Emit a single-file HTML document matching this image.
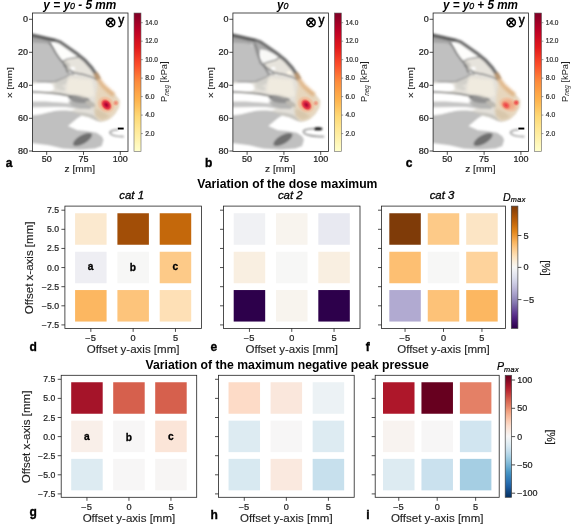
<!DOCTYPE html>
<html><head><meta charset="utf-8"><style>
html,body{margin:0;padding:0;background:#fff;width:575px;height:531px;overflow:hidden;}
svg{display:block;font-family:"Liberation Sans",sans-serif;will-change:transform;}
</style></head><body>
<svg width="575" height="531" viewBox="0 0 575 531" font-family="Liberation Sans, sans-serif"><defs>
<linearGradient id="gYl" x1="0" y1="0" x2="0" y2="1"><stop offset="0.000" stop-color="#800026"/><stop offset="0.042" stop-color="#930026"/><stop offset="0.083" stop-color="#a80026"/><stop offset="0.125" stop-color="#bb0026"/><stop offset="0.167" stop-color="#c90823"/><stop offset="0.208" stop-color="#d6111f"/><stop offset="0.250" stop-color="#e2191c"/><stop offset="0.292" stop-color="#eb2b21"/><stop offset="0.333" stop-color="#f43d25"/><stop offset="0.375" stop-color="#fc4d2a"/><stop offset="0.417" stop-color="#fc6330"/><stop offset="0.458" stop-color="#fd7836"/><stop offset="0.500" stop-color="#fd8c3c"/><stop offset="0.542" stop-color="#fd9941"/><stop offset="0.583" stop-color="#fea647"/><stop offset="0.625" stop-color="#feb24c"/><stop offset="0.667" stop-color="#febf5a"/><stop offset="0.708" stop-color="#fecc68"/><stop offset="0.750" stop-color="#fed976"/><stop offset="0.792" stop-color="#fee084"/><stop offset="0.833" stop-color="#ffe793"/><stop offset="0.875" stop-color="#ffeda0"/><stop offset="0.917" stop-color="#fff3af"/><stop offset="0.958" stop-color="#fff9be"/><stop offset="1.000" stop-color="#ffffcc"/></linearGradient>
<linearGradient id="gPu" x1="0" y1="0" x2="0" y2="1"><stop offset="0.000" stop-color="#7f3b08"/><stop offset="0.042" stop-color="#934607"/><stop offset="0.083" stop-color="#aa5306"/><stop offset="0.125" stop-color="#bd6109"/><stop offset="0.167" stop-color="#d0730f"/><stop offset="0.208" stop-color="#e2861a"/><stop offset="0.250" stop-color="#ee9b39"/><stop offset="0.292" stop-color="#fab35b"/><stop offset="0.333" stop-color="#fdc57f"/><stop offset="0.375" stop-color="#fed59f"/><stop offset="0.417" stop-color="#fde4c0"/><stop offset="0.458" stop-color="#faeedc"/><stop offset="0.500" stop-color="#f7f7f6"/><stop offset="0.542" stop-color="#eaebf2"/><stop offset="0.583" stop-color="#dddfed"/><stop offset="0.625" stop-color="#cfcfe5"/><stop offset="0.667" stop-color="#bfbbda"/><stop offset="0.708" stop-color="#ada6ce"/><stop offset="0.750" stop-color="#9990bf"/><stop offset="0.792" stop-color="#8477af"/><stop offset="0.833" stop-color="#70589f"/><stop offset="0.875" stop-color="#5f3a91"/><stop offset="0.917" stop-color="#4d207d"/><stop offset="0.958" stop-color="#3c0f63"/><stop offset="1.000" stop-color="#2d004b"/></linearGradient>
<linearGradient id="gRd" x1="0" y1="0" x2="0" y2="1"><stop offset="0.000" stop-color="#67001f"/><stop offset="0.042" stop-color="#840924"/><stop offset="0.083" stop-color="#a51429"/><stop offset="0.125" stop-color="#ba2832"/><stop offset="0.167" stop-color="#c94741"/><stop offset="0.208" stop-color="#d86551"/><stop offset="0.250" stop-color="#e48066"/><stop offset="0.292" stop-color="#f19e7d"/><stop offset="0.333" stop-color="#f7b799"/><stop offset="0.375" stop-color="#fbccb4"/><stop offset="0.417" stop-color="#fcdfcf"/><stop offset="0.458" stop-color="#f9ebe3"/><stop offset="0.500" stop-color="#f7f6f6"/><stop offset="0.542" stop-color="#e7f0f4"/><stop offset="0.583" stop-color="#d7e8f1"/><stop offset="0.625" stop-color="#c2ddec"/><stop offset="0.667" stop-color="#a7d0e4"/><stop offset="0.708" stop-color="#8ac0db"/><stop offset="0.750" stop-color="#6bacd1"/><stop offset="0.792" stop-color="#4997c5"/><stop offset="0.833" stop-color="#3783bb"/><stop offset="0.875" stop-color="#2a71b2"/><stop offset="0.917" stop-color="#1c5c9f"/><stop offset="0.958" stop-color="#10457e"/><stop offset="1.000" stop-color="#053061"/></linearGradient>
<radialGradient id="hot"><stop offset="0" stop-color="#a00030"/><stop offset="0.3" stop-color="#c8103a"/><stop offset="0.62" stop-color="#e83040" stop-opacity="0.9"/><stop offset="1" stop-color="#f08070" stop-opacity="0"/></radialGradient>
<radialGradient id="halo"><stop offset="0" stop-color="#f28c68"/><stop offset="0.5" stop-color="#f4a47c" stop-opacity="0.9"/><stop offset="0.8" stop-color="#f2b894" stop-opacity="0.55"/><stop offset="1" stop-color="#f0c8a8" stop-opacity="0"/></radialGradient>
<radialGradient id="hot2"><stop offset="0" stop-color="#f07060"/><stop offset="0.6" stop-color="#f09070" stop-opacity="0.6"/><stop offset="1" stop-color="#f0b090" stop-opacity="0"/></radialGradient>
<radialGradient id="hot3"><stop offset="0" stop-color="#ee3a44"/><stop offset="0.45" stop-color="#f05a50" stop-opacity="0.8"/><stop offset="1" stop-color="#f0a080" stop-opacity="0"/></radialGradient>
<filter id="bl" x="-10%" y="-10%" width="120%" height="120%"><feGaussianBlur stdDeviation="1.0"/></filter><filter id="bl2" x="-30%" y="-30%" width="160%" height="160%"><feGaussianBlur stdDeviation="1.4"/></filter><filter id="bl3" x="-30%" y="-30%" width="160%" height="160%"><feGaussianBlur stdDeviation="0.8"/></filter><g id="brainA"><path fill="#e3e0d9" d="M31,81 L43,81 L50.8,80.5 L58.4,78.6 L65,76.4 L72,74.5 L80,75 L88,77 L96,79 L100,80 L104,87 L110,91.5 L116,96 L119.5,101 L118.5,107 L114.5,114 L108,119.5 L101,122 L96.5,120.7 L88.7,117.2 L81.7,115.4 L77.4,118 L67.8,125.9 L60,122 L50,118 L31,117 Z"/><path fill="#e6e3dc" d="M62.5,60.4 L67.2,58 L77.6,56.2 L84.8,60.2 L91.5,67.6 L96.4,74.8 L99,79.5 L92.7,77.4 L83.2,74.5 L73.8,72.7 L66.3,68 L63.5,65.1 Z"/><path fill="#c0c0c0" d="M31,37 L45,39.5 L49.2,42.6 L52.9,47.8 L55.8,53 L58.5,57 L61.3,60.6 L66,66.3 L68,70 L71,73.5 L66,77 L55.4,81.3 L47.5,82.2 L43,81.8 L36.5,81.6 L31,83 Z"/><path fill="#a4a4a4" d="M31,36 L45,38.5 L50,41 L52,44.5 L45,43.2 L31,42.5 Z"/><path fill="#d2d0ca" d="M54,82 L62,79.5 L70,77 L66,84 L58,86 Z"/><path fill="#ffffff" d="M31,85 L38.2,82.4 L47.5,82.2 L52.7,84.5 L54.3,89.5 L50,91.2 L40,91.2 L31,91.2 Z"/><path fill="#ffffff" d="M31,93 L45,93.5 L57.9,95 L66,96.5 L73,100 L72.4,103.4 L62,102.5 L50,101.8 L40,101.6 L31,101.6 Z"/><path fill="#c6c6c6" d="M31,101.8 L45,101.6 L58,102.4 L70,103.6 L80,105.5 L86,108 L80,108.8 L66,107.2 L56,107 L45,107.2 L31,107.4 Z"/><path fill="#ffffff" d="M31,107.4 L45,107.2 L56,107 L66,107.3 L76,109 L72,110.5 L60,110.6 L48,112.5 L40,114.5 L31,115.6 Z"/><path fill="#c0c0c0" d="M31,115.6 L40,114.5 L48,112.5 L56,110.8 L66,110.6 L74,111.5 L81.7,115.4 L77.4,118 L67.8,125.9 L77.4,130.2 L86.1,131.1 L96.5,132.8 L101.7,136.3 L103.5,139.8 L101.7,145.9 L95,148.5 L80,149.5 L63,148.4 L49,145.3 L33.6,143.2 L31,143 Z"/><path fill="#c8c6c0" d="M70,111 L78,112 L86,113 L92,114.5 L96.5,117 L101,121.5 L96.5,120.7 L88.7,117.2 L81.7,115.4 Z"/><path fill="#b4b4b2" d="M68,101 L78,101.5 L88,103 L93,106 L90,109 L80,108.5 L72,106 Z"/><ellipse cx="79" cy="98.8" rx="11" ry="4.0" transform="rotate(9 79 98.8)" fill="#909090"/><ellipse cx="91" cy="104" rx="6" ry="2.6" transform="rotate(25 91 104)" fill="#bdbab2"/><ellipse cx="72.9" cy="68.4" rx="2.2" ry="1.6" fill="#ffffff"/><path fill="none" stroke="#7e7e7e" stroke-width="1.5" d="M63.5,65.1 L66.3,68 L73.8,72.7 L83.2,74.5 L92.7,77.4 L97.5,79.5"/><path fill="none" stroke="#959595" stroke-width="1.3" d="M36.5,81.8 L43,81.6 L48,82 L55.4,81.3 L66,77 L71,73.8 L74,74.5"/><path fill="#d6d4cd" d="M55.4,83.4 L60,84 L65.9,89 L62,90.5 L56,88 Z"/><path fill="none" stroke="#707070" stroke-width="1.4" d="M31,91.8 L45,92.6 L57.9,93.8 L66.3,95.3 L72,96"/><ellipse cx="82.5" cy="139.5" rx="10.8" ry="4.2" transform="rotate(-30 82.5 139.5)" fill="#707070"/></g><g id="triA"><path fill="none" stroke="#a0a0a0" stroke-width="1.7" d="M118,129.6 C113,129.8 109.4,131.3 110.0,133.0 C111.0,135.3 117,136.6 123.8,136.6"/><path fill="#fdfdfb" d="M53,42.5 L60,42.5 L64,45 L68.3,48.5 L76.6,54.5 L80,57.2 L77.6,57.4 L67.2,59 L62.8,61 L59,57 L55.5,50 Z"/><path fill="#cdcbc4" d="M61.3,60.6 L66,61 L70,64 L69,72 L66.5,74 L66,66.3 Z"/><path fill="none" stroke="#7a7a7a" stroke-width="1.8" d="M49.2,42.6 L52.9,47.8 L55.8,53 L58.5,57 L61.3,60.6 L66,66.3 L66.8,70 L68,73"/><path fill="none" stroke="#8c8c8c" stroke-width="1.2" d="M62.8,61 L67.2,59 L77.6,57.2 L81,57.5"/></g><g id="triB"><path fill="none" stroke="#a0a0a0" stroke-width="1.8" d="M113,128.6 C106,128.8 101.5,130.3 103.5,132.8 C105.5,135.5 116,136.7 123.8,136.7"/><ellipse cx="117.6" cy="128.8" rx="4.4" ry="1.5" fill="#000"/><path fill="#ababab" d="M50,41 L64.4,44 L73.8,50 L81,55.5 L79,57.5 L73,53.8 L66,50.5 L60,49.2 L59,55 L60,62 L57,58 L54,50 Z"/><path fill="#f8f8f6" d="M60.5,50 L66,50.8 L73,54 L78.5,57.5 L75,59.5 L68,61.2 L62.8,63.2 L60.8,56 Z"/><path fill="none" stroke="#7a7a7a" stroke-width="1.4" d="M54.5,43 L56.5,50 L58.5,57 L60,63 L64,67 L68.4,74.5"/><path fill="none" stroke="#808080" stroke-width="1.3" d="M62,64 L68,62 L75,60 L80,57"/><ellipse cx="89" cy="72.7" rx="2.6" ry="1.6" fill="#fff8ea"/></g><g id="skull"><path fill="none" stroke="#929292" stroke-width="3.8" stroke-linejoin="round" d="M29,34.9 L33,35.4 L40,36.9 L47,38.5 L55,40.3 L60,42.0 L64,44.7 L68.3,47.8 L76.6,53.6 L84.8,60.2 L91.5,67.6 L96.4,74.8 L99,79.5"/><path fill="none" stroke="#626262" stroke-width="1.8" stroke-linejoin="round" d="M29,34.9 L33,35.4 L40,36.9 L47,38.5 L55,40.3 L60,42.0 L64,44.7 L68.3,47.8 L76.6,53.6 L84.8,60.2 L91.5,67.6 L96.4,74.8 L98,77.5"/><path fill="none" stroke="#5a5a5a" stroke-width="3.0" stroke-linejoin="round" d="M29,35.2 L33,35.6 L40,37.1 L47,38.7 L55,40.5"/></g>
<clipPath id="axclip0"><rect x="32.40" y="13.0" width="95.5" height="138.4"/></clipPath>
<clipPath id="axclip1"><rect x="232.80" y="13.0" width="95.5" height="138.4"/></clipPath>
<clipPath id="axclip2"><rect x="433.00" y="13.0" width="95.5" height="138.4"/></clipPath>
</defs>
<rect x="32.50" y="13.00" width="95.50" height="138.40" fill="#fff"/>
<g clip-path="url(#axclip0)"><g transform="translate(0.00 0)" filter="url(#bl)"><use href="#brainA"/><use href="#triA"/><use href="#skull"/></g>
<g transform="translate(0.00 0)"><path fill="#f6f0e2" filter="url(#bl2)" opacity="0.7" d="M68,78 L92,80 L95,96 L84,98 L66,92 Z"/><path fill="#e8d6ba" filter="url(#bl2)" opacity="0.9" d="M98,82 L103,86 L109,90.5 L115,95 L119.5,100.5 L119,107 L115,113.6 L110.6,118.1 L105,120.5 L99,120.5 L96,116 L95,108 L96,96 Z"/><path fill="none" stroke="#dda66c" stroke-width="4.5" filter="url(#bl2)" opacity="0.7" d="M95.5,73 L99,80 L103.5,86 L109,91 L114,95"/><path fill="#c9b89a" filter="url(#bl2)" opacity="0.5" d="M94,108 L104,112 L110,117 L102,120 L95,116 Z"/><ellipse cx="106.00" cy="104.50" rx="10.00" ry="8.50" transform="rotate(40 106.00 104.50)" fill="url(#halo)" opacity="0.90"/><ellipse cx="106.40" cy="104.90" rx="7.00" ry="5.20" transform="rotate(50 106.40 104.90)" fill="url(#hot)" opacity="1.00"/><ellipse cx="115.80" cy="103.00" rx="3.40" ry="3.40" transform="rotate(0 115.80 103.00)" fill="url(#hot2)" opacity="0.85"/></g>
<rect x="117.80" y="127.6" width="5.9" height="1.9" fill="#000"/>
</g>
<rect x="32.50" y="13.00" width="95.50" height="138.40" fill="none" stroke="#222" stroke-width="0.80"/>
<line x1="46.70" y1="151.40" x2="46.70" y2="154.90" stroke="#222" stroke-width="0.80"/>
<text x="46.70" y="161.80" font-size="8.20" text-anchor="middle" stroke="#1e1e1e" stroke-width="0.22" textLength="10.00" lengthAdjust="spacingAndGlyphs" fill="#1e1e1e" >50</text>
<line x1="83.50" y1="151.40" x2="83.50" y2="154.90" stroke="#222" stroke-width="0.80"/>
<text x="83.50" y="161.80" font-size="8.20" text-anchor="middle" stroke="#1e1e1e" stroke-width="0.22" textLength="10.00" lengthAdjust="spacingAndGlyphs" fill="#1e1e1e" >75</text>
<line x1="120.30" y1="151.40" x2="120.30" y2="154.90" stroke="#222" stroke-width="0.80"/>
<text x="120.30" y="161.80" font-size="8.20" text-anchor="middle" stroke="#1e1e1e" stroke-width="0.22" textLength="15.00" lengthAdjust="spacingAndGlyphs" fill="#1e1e1e" >100</text>
<text x="79.80" y="172.00" font-size="8.40" text-anchor="middle" stroke="#1e1e1e" stroke-width="0.12" textLength="30.40" lengthAdjust="spacingAndGlyphs" fill="#1e1e1e" >z [mm]</text>
<line x1="29.00" y1="19.30" x2="32.50" y2="19.30" stroke="#222" stroke-width="0.80"/>
<text x="28.10" y="22.25" font-size="8.20" text-anchor="end" stroke="#1e1e1e" stroke-width="0.22" textLength="5.00" lengthAdjust="spacingAndGlyphs" fill="#1e1e1e" >0</text>
<line x1="29.00" y1="52.30" x2="32.50" y2="52.30" stroke="#222" stroke-width="0.80"/>
<text x="28.10" y="55.25" font-size="8.20" text-anchor="end" stroke="#1e1e1e" stroke-width="0.22" textLength="10.00" lengthAdjust="spacingAndGlyphs" fill="#1e1e1e" >20</text>
<line x1="29.00" y1="85.30" x2="32.50" y2="85.30" stroke="#222" stroke-width="0.80"/>
<text x="28.10" y="88.25" font-size="8.20" text-anchor="end" stroke="#1e1e1e" stroke-width="0.22" textLength="10.00" lengthAdjust="spacingAndGlyphs" fill="#1e1e1e" >40</text>
<line x1="29.00" y1="118.30" x2="32.50" y2="118.30" stroke="#222" stroke-width="0.80"/>
<text x="28.10" y="121.25" font-size="8.20" text-anchor="end" stroke="#1e1e1e" stroke-width="0.22" textLength="10.00" lengthAdjust="spacingAndGlyphs" fill="#1e1e1e" >60</text>
<line x1="29.00" y1="151.00" x2="32.50" y2="151.00" stroke="#222" stroke-width="0.80"/>
<text x="28.10" y="153.95" font-size="8.20" text-anchor="end" stroke="#1e1e1e" stroke-width="0.22" textLength="10.00" lengthAdjust="spacingAndGlyphs" fill="#1e1e1e" >80</text>
<text x="12.40" y="82.40" font-size="8.00" text-anchor="middle" stroke="#1e1e1e" stroke-width="0.12" textLength="30.60" lengthAdjust="spacingAndGlyphs" transform="rotate(-90 12.40 82.40)" fill="#1e1e1e" >x [mm]</text>
<text x="43.30" y="8.70" font-size="12.00" text-anchor="start" font-weight="bold" font-style="italic" textLength="73.10" lengthAdjust="spacingAndGlyphs" fill="#000" >y = y<tspan font-size="9.0" font-weight="normal" stroke="#000" stroke-width="0.3">0</tspan> - 5 mm</text>
<circle cx="110.60" cy="22.50" r="4.15" fill="none" stroke="#000" stroke-width="1.55"/>
<path d="M107.70 19.60L113.50 25.40M107.70 25.40L113.50 19.60" stroke="#000" stroke-width="1.45"/>
<text x="118.20" y="24.30" font-size="12.00" text-anchor="start" stroke="#000" stroke-width="0.45" fill="#000" >y</text>
<rect x="134.00" y="13.00" width="7.00" height="138.40" fill="url(#gYl)" stroke="#666" stroke-width="0.6"/>
<line x1="141.00" y1="22.70" x2="142.80" y2="22.70" stroke="#555" stroke-width="0.60"/>
<text x="145.20" y="25.00" font-size="6.40" text-anchor="start" stroke="#333" stroke-width="0.22" textLength="12.70" lengthAdjust="spacingAndGlyphs" fill="#333" >14.0</text>
<line x1="141.00" y1="41.18" x2="142.80" y2="41.18" stroke="#555" stroke-width="0.60"/>
<text x="145.20" y="43.48" font-size="6.40" text-anchor="start" stroke="#333" stroke-width="0.22" textLength="12.70" lengthAdjust="spacingAndGlyphs" fill="#333" >12.0</text>
<line x1="141.00" y1="59.66" x2="142.80" y2="59.66" stroke="#555" stroke-width="0.60"/>
<text x="145.20" y="61.96" font-size="6.40" text-anchor="start" stroke="#333" stroke-width="0.22" textLength="12.70" lengthAdjust="spacingAndGlyphs" fill="#333" >10.0</text>
<line x1="141.00" y1="78.14" x2="142.80" y2="78.14" stroke="#555" stroke-width="0.60"/>
<text x="145.20" y="80.44" font-size="6.40" text-anchor="start" stroke="#333" stroke-width="0.22" textLength="9.40" lengthAdjust="spacingAndGlyphs" fill="#333" >8.0</text>
<line x1="141.00" y1="96.62" x2="142.80" y2="96.62" stroke="#555" stroke-width="0.60"/>
<text x="145.20" y="98.92" font-size="6.40" text-anchor="start" stroke="#333" stroke-width="0.22" textLength="9.40" lengthAdjust="spacingAndGlyphs" fill="#333" >6.0</text>
<line x1="141.00" y1="115.10" x2="142.80" y2="115.10" stroke="#555" stroke-width="0.60"/>
<text x="145.20" y="117.40" font-size="6.40" text-anchor="start" stroke="#333" stroke-width="0.22" textLength="9.40" lengthAdjust="spacingAndGlyphs" fill="#333" >4.0</text>
<line x1="141.00" y1="133.58" x2="142.80" y2="133.58" stroke="#555" stroke-width="0.60"/>
<text x="145.20" y="135.88" font-size="6.40" text-anchor="start" stroke="#333" stroke-width="0.22" textLength="9.40" lengthAdjust="spacingAndGlyphs" fill="#333" >2.0</text>
<text x="167.00" y="81.70" font-size="9.2" text-anchor="middle" fill="#1e1e1e" textLength="40.4" lengthAdjust="spacingAndGlyphs" xml:space="preserve" transform="rotate(-90 167.00 81.70)">P<tspan font-size="6.4" dy="1.8" font-style="italic">neg</tspan><tspan dy="-1.8">&#160;[kPa]</tspan></text>
<text x="5.80" y="167.20" font-size="12.00" text-anchor="start" stroke="#000" stroke-width="0.35" font-weight="bold" fill="#000" >a</text>
<rect x="232.90" y="13.00" width="95.50" height="138.40" fill="#fff"/>
<g clip-path="url(#axclip1)"><g transform="translate(200.40 0)" filter="url(#bl)"><use href="#brainA"/><use href="#triB"/><use href="#skull"/></g>
<g transform="translate(200.40 0)"><path fill="#f6f0e2" filter="url(#bl2)" opacity="0.7" d="M68,78 L92,80 L95,96 L84,98 L66,92 Z"/><path fill="#e8d6ba" filter="url(#bl2)" opacity="0.9" d="M98,82 L103,86 L109,90.5 L115,95 L119.5,100.5 L119,107 L115,113.6 L110.6,118.1 L105,120.5 L99,120.5 L96,116 L95,108 L96,96 Z"/><path fill="none" stroke="#dda66c" stroke-width="4.5" filter="url(#bl2)" opacity="0.7" d="M95.5,73 L99,80 L103.5,86 L109,91 L114,95"/><path fill="#c9b89a" filter="url(#bl2)" opacity="0.5" d="M94,108 L104,112 L110,117 L102,120 L95,116 Z"/><ellipse cx="105.60" cy="104.50" rx="10.00" ry="8.50" transform="rotate(40 105.60 104.50)" fill="url(#halo)" opacity="0.90"/><ellipse cx="106.00" cy="104.90" rx="7.00" ry="5.20" transform="rotate(50 106.00 104.90)" fill="url(#hot)" opacity="0.95"/><ellipse cx="115.40" cy="103.20" rx="3.20" ry="3.20" transform="rotate(0 115.40 103.20)" fill="url(#hot2)" opacity="0.70"/></g>
</g>
<rect x="232.90" y="13.00" width="95.50" height="138.40" fill="none" stroke="#222" stroke-width="0.80"/>
<line x1="247.10" y1="151.40" x2="247.10" y2="154.90" stroke="#222" stroke-width="0.80"/>
<text x="247.10" y="161.80" font-size="8.20" text-anchor="middle" stroke="#1e1e1e" stroke-width="0.22" textLength="10.00" lengthAdjust="spacingAndGlyphs" fill="#1e1e1e" >50</text>
<line x1="283.90" y1="151.40" x2="283.90" y2="154.90" stroke="#222" stroke-width="0.80"/>
<text x="283.90" y="161.80" font-size="8.20" text-anchor="middle" stroke="#1e1e1e" stroke-width="0.22" textLength="10.00" lengthAdjust="spacingAndGlyphs" fill="#1e1e1e" >75</text>
<line x1="320.70" y1="151.40" x2="320.70" y2="154.90" stroke="#222" stroke-width="0.80"/>
<text x="320.70" y="161.80" font-size="8.20" text-anchor="middle" stroke="#1e1e1e" stroke-width="0.22" textLength="15.00" lengthAdjust="spacingAndGlyphs" fill="#1e1e1e" >100</text>
<text x="280.20" y="172.00" font-size="8.40" text-anchor="middle" stroke="#1e1e1e" stroke-width="0.12" textLength="30.40" lengthAdjust="spacingAndGlyphs" fill="#1e1e1e" >z [mm]</text>
<line x1="229.40" y1="19.30" x2="232.90" y2="19.30" stroke="#222" stroke-width="0.80"/>
<text x="228.50" y="22.25" font-size="8.20" text-anchor="end" stroke="#1e1e1e" stroke-width="0.22" textLength="5.00" lengthAdjust="spacingAndGlyphs" fill="#1e1e1e" >0</text>
<line x1="229.40" y1="52.30" x2="232.90" y2="52.30" stroke="#222" stroke-width="0.80"/>
<text x="228.50" y="55.25" font-size="8.20" text-anchor="end" stroke="#1e1e1e" stroke-width="0.22" textLength="10.00" lengthAdjust="spacingAndGlyphs" fill="#1e1e1e" >20</text>
<line x1="229.40" y1="85.30" x2="232.90" y2="85.30" stroke="#222" stroke-width="0.80"/>
<text x="228.50" y="88.25" font-size="8.20" text-anchor="end" stroke="#1e1e1e" stroke-width="0.22" textLength="10.00" lengthAdjust="spacingAndGlyphs" fill="#1e1e1e" >40</text>
<line x1="229.40" y1="118.30" x2="232.90" y2="118.30" stroke="#222" stroke-width="0.80"/>
<text x="228.50" y="121.25" font-size="8.20" text-anchor="end" stroke="#1e1e1e" stroke-width="0.22" textLength="10.00" lengthAdjust="spacingAndGlyphs" fill="#1e1e1e" >60</text>
<line x1="229.40" y1="151.00" x2="232.90" y2="151.00" stroke="#222" stroke-width="0.80"/>
<text x="228.50" y="153.95" font-size="8.20" text-anchor="end" stroke="#1e1e1e" stroke-width="0.22" textLength="10.00" lengthAdjust="spacingAndGlyphs" fill="#1e1e1e" >80</text>
<text x="212.80" y="82.40" font-size="8.00" text-anchor="middle" stroke="#1e1e1e" stroke-width="0.12" textLength="30.60" lengthAdjust="spacingAndGlyphs" transform="rotate(-90 212.80 82.40)" fill="#1e1e1e" >x [mm]</text>
<text x="276.90" y="8.70" font-size="12.00" text-anchor="start" font-weight="bold" font-style="italic" textLength="11.40" lengthAdjust="spacingAndGlyphs" fill="#000" >y<tspan font-size="9.0" font-weight="normal" stroke="#000" stroke-width="0.3">0</tspan></text>
<circle cx="311.00" cy="22.50" r="4.15" fill="none" stroke="#000" stroke-width="1.55"/>
<path d="M308.10 19.60L313.90 25.40M308.10 25.40L313.90 19.60" stroke="#000" stroke-width="1.45"/>
<text x="318.60" y="24.30" font-size="12.00" text-anchor="start" stroke="#000" stroke-width="0.45" fill="#000" >y</text>
<rect x="334.40" y="13.00" width="7.00" height="138.40" fill="url(#gYl)" stroke="#666" stroke-width="0.6"/>
<line x1="341.40" y1="22.70" x2="343.20" y2="22.70" stroke="#555" stroke-width="0.60"/>
<text x="345.60" y="25.00" font-size="6.40" text-anchor="start" stroke="#333" stroke-width="0.22" textLength="12.70" lengthAdjust="spacingAndGlyphs" fill="#333" >14.0</text>
<line x1="341.40" y1="41.18" x2="343.20" y2="41.18" stroke="#555" stroke-width="0.60"/>
<text x="345.60" y="43.48" font-size="6.40" text-anchor="start" stroke="#333" stroke-width="0.22" textLength="12.70" lengthAdjust="spacingAndGlyphs" fill="#333" >12.0</text>
<line x1="341.40" y1="59.66" x2="343.20" y2="59.66" stroke="#555" stroke-width="0.60"/>
<text x="345.60" y="61.96" font-size="6.40" text-anchor="start" stroke="#333" stroke-width="0.22" textLength="12.70" lengthAdjust="spacingAndGlyphs" fill="#333" >10.0</text>
<line x1="341.40" y1="78.14" x2="343.20" y2="78.14" stroke="#555" stroke-width="0.60"/>
<text x="345.60" y="80.44" font-size="6.40" text-anchor="start" stroke="#333" stroke-width="0.22" textLength="9.40" lengthAdjust="spacingAndGlyphs" fill="#333" >8.0</text>
<line x1="341.40" y1="96.62" x2="343.20" y2="96.62" stroke="#555" stroke-width="0.60"/>
<text x="345.60" y="98.92" font-size="6.40" text-anchor="start" stroke="#333" stroke-width="0.22" textLength="9.40" lengthAdjust="spacingAndGlyphs" fill="#333" >6.0</text>
<line x1="341.40" y1="115.10" x2="343.20" y2="115.10" stroke="#555" stroke-width="0.60"/>
<text x="345.60" y="117.40" font-size="6.40" text-anchor="start" stroke="#333" stroke-width="0.22" textLength="9.40" lengthAdjust="spacingAndGlyphs" fill="#333" >4.0</text>
<line x1="341.40" y1="133.58" x2="343.20" y2="133.58" stroke="#555" stroke-width="0.60"/>
<text x="345.60" y="135.88" font-size="6.40" text-anchor="start" stroke="#333" stroke-width="0.22" textLength="9.40" lengthAdjust="spacingAndGlyphs" fill="#333" >2.0</text>
<text x="367.40" y="81.70" font-size="9.2" text-anchor="middle" fill="#1e1e1e" textLength="40.4" lengthAdjust="spacingAndGlyphs" xml:space="preserve" transform="rotate(-90 367.40 81.70)">P<tspan font-size="6.4" dy="1.8" font-style="italic">neg</tspan><tspan dy="-1.8">&#160;[kPa]</tspan></text>
<text x="205.00" y="167.20" font-size="12.00" text-anchor="start" stroke="#000" stroke-width="0.35" font-weight="bold" fill="#000" >b</text>
<rect x="433.10" y="13.00" width="95.50" height="138.40" fill="#fff"/>
<g clip-path="url(#axclip2)"><g transform="translate(400.60 0)" filter="url(#bl)"><use href="#brainA"/><use href="#triA"/><use href="#skull"/></g>
<g transform="translate(400.60 0)"><path fill="#f6f0e2" filter="url(#bl2)" opacity="0.7" d="M68,78 L92,80 L95,96 L84,98 L66,92 Z"/><path fill="#e8d6ba" filter="url(#bl2)" opacity="0.9" d="M98,82 L103,86 L109,90.5 L115,95 L119.5,100.5 L119,107 L115,113.6 L110.6,118.1 L105,120.5 L99,120.5 L96,116 L95,108 L96,96 Z"/><path fill="none" stroke="#dda66c" stroke-width="4.5" filter="url(#bl2)" opacity="0.7" d="M95.5,73 L99,80 L103.5,86 L109,91 L114,95"/><path fill="#c9b89a" filter="url(#bl2)" opacity="0.5" d="M94,108 L104,112 L110,117 L102,120 L95,116 Z"/><ellipse cx="108.00" cy="104.50" rx="11.00" ry="8.00" transform="rotate(20 108.00 104.50)" fill="url(#halo)" opacity="0.80"/><ellipse cx="105.40" cy="105.30" rx="6.00" ry="4.60" transform="rotate(40 105.40 105.30)" fill="url(#hot3)" opacity="1.00"/><ellipse cx="115.60" cy="102.70" rx="3.80" ry="3.80" transform="rotate(0 115.60 102.70)" fill="url(#hot3)" opacity="0.95"/></g>
<rect x="518.40" y="127.6" width="5.9" height="1.9" fill="#000"/>
</g>
<rect x="433.10" y="13.00" width="95.50" height="138.40" fill="none" stroke="#222" stroke-width="0.80"/>
<line x1="447.30" y1="151.40" x2="447.30" y2="154.90" stroke="#222" stroke-width="0.80"/>
<text x="447.30" y="161.80" font-size="8.20" text-anchor="middle" stroke="#1e1e1e" stroke-width="0.22" textLength="10.00" lengthAdjust="spacingAndGlyphs" fill="#1e1e1e" >50</text>
<line x1="484.10" y1="151.40" x2="484.10" y2="154.90" stroke="#222" stroke-width="0.80"/>
<text x="484.10" y="161.80" font-size="8.20" text-anchor="middle" stroke="#1e1e1e" stroke-width="0.22" textLength="10.00" lengthAdjust="spacingAndGlyphs" fill="#1e1e1e" >75</text>
<line x1="520.90" y1="151.40" x2="520.90" y2="154.90" stroke="#222" stroke-width="0.80"/>
<text x="520.90" y="161.80" font-size="8.20" text-anchor="middle" stroke="#1e1e1e" stroke-width="0.22" textLength="15.00" lengthAdjust="spacingAndGlyphs" fill="#1e1e1e" >100</text>
<text x="480.40" y="172.00" font-size="8.40" text-anchor="middle" stroke="#1e1e1e" stroke-width="0.12" textLength="30.40" lengthAdjust="spacingAndGlyphs" fill="#1e1e1e" >z [mm]</text>
<line x1="429.60" y1="19.30" x2="433.10" y2="19.30" stroke="#222" stroke-width="0.80"/>
<text x="428.70" y="22.25" font-size="8.20" text-anchor="end" stroke="#1e1e1e" stroke-width="0.22" textLength="5.00" lengthAdjust="spacingAndGlyphs" fill="#1e1e1e" >0</text>
<line x1="429.60" y1="52.30" x2="433.10" y2="52.30" stroke="#222" stroke-width="0.80"/>
<text x="428.70" y="55.25" font-size="8.20" text-anchor="end" stroke="#1e1e1e" stroke-width="0.22" textLength="10.00" lengthAdjust="spacingAndGlyphs" fill="#1e1e1e" >20</text>
<line x1="429.60" y1="85.30" x2="433.10" y2="85.30" stroke="#222" stroke-width="0.80"/>
<text x="428.70" y="88.25" font-size="8.20" text-anchor="end" stroke="#1e1e1e" stroke-width="0.22" textLength="10.00" lengthAdjust="spacingAndGlyphs" fill="#1e1e1e" >40</text>
<line x1="429.60" y1="118.30" x2="433.10" y2="118.30" stroke="#222" stroke-width="0.80"/>
<text x="428.70" y="121.25" font-size="8.20" text-anchor="end" stroke="#1e1e1e" stroke-width="0.22" textLength="10.00" lengthAdjust="spacingAndGlyphs" fill="#1e1e1e" >60</text>
<line x1="429.60" y1="151.00" x2="433.10" y2="151.00" stroke="#222" stroke-width="0.80"/>
<text x="428.70" y="153.95" font-size="8.20" text-anchor="end" stroke="#1e1e1e" stroke-width="0.22" textLength="10.00" lengthAdjust="spacingAndGlyphs" fill="#1e1e1e" >80</text>
<text x="413.00" y="82.40" font-size="8.00" text-anchor="middle" stroke="#1e1e1e" stroke-width="0.12" textLength="30.60" lengthAdjust="spacingAndGlyphs" transform="rotate(-90 413.00 82.40)" fill="#1e1e1e" >x [mm]</text>
<text x="442.90" y="8.70" font-size="12.00" text-anchor="start" font-weight="bold" font-style="italic" textLength="75.10" lengthAdjust="spacingAndGlyphs" fill="#000" >y = y<tspan font-size="9.0" font-weight="normal" stroke="#000" stroke-width="0.3">0</tspan> + 5 mm</text>
<circle cx="511.20" cy="22.50" r="4.15" fill="none" stroke="#000" stroke-width="1.55"/>
<path d="M508.30 19.60L514.10 25.40M508.30 25.40L514.10 19.60" stroke="#000" stroke-width="1.45"/>
<text x="518.80" y="24.30" font-size="12.00" text-anchor="start" stroke="#000" stroke-width="0.45" fill="#000" >y</text>
<rect x="534.60" y="13.00" width="7.00" height="138.40" fill="url(#gYl)" stroke="#666" stroke-width="0.6"/>
<line x1="541.60" y1="22.70" x2="543.40" y2="22.70" stroke="#555" stroke-width="0.60"/>
<text x="545.80" y="25.00" font-size="6.40" text-anchor="start" stroke="#333" stroke-width="0.22" textLength="12.70" lengthAdjust="spacingAndGlyphs" fill="#333" >14.0</text>
<line x1="541.60" y1="41.18" x2="543.40" y2="41.18" stroke="#555" stroke-width="0.60"/>
<text x="545.80" y="43.48" font-size="6.40" text-anchor="start" stroke="#333" stroke-width="0.22" textLength="12.70" lengthAdjust="spacingAndGlyphs" fill="#333" >12.0</text>
<line x1="541.60" y1="59.66" x2="543.40" y2="59.66" stroke="#555" stroke-width="0.60"/>
<text x="545.80" y="61.96" font-size="6.40" text-anchor="start" stroke="#333" stroke-width="0.22" textLength="12.70" lengthAdjust="spacingAndGlyphs" fill="#333" >10.0</text>
<line x1="541.60" y1="78.14" x2="543.40" y2="78.14" stroke="#555" stroke-width="0.60"/>
<text x="545.80" y="80.44" font-size="6.40" text-anchor="start" stroke="#333" stroke-width="0.22" textLength="9.40" lengthAdjust="spacingAndGlyphs" fill="#333" >8.0</text>
<line x1="541.60" y1="96.62" x2="543.40" y2="96.62" stroke="#555" stroke-width="0.60"/>
<text x="545.80" y="98.92" font-size="6.40" text-anchor="start" stroke="#333" stroke-width="0.22" textLength="9.40" lengthAdjust="spacingAndGlyphs" fill="#333" >6.0</text>
<line x1="541.60" y1="115.10" x2="543.40" y2="115.10" stroke="#555" stroke-width="0.60"/>
<text x="545.80" y="117.40" font-size="6.40" text-anchor="start" stroke="#333" stroke-width="0.22" textLength="9.40" lengthAdjust="spacingAndGlyphs" fill="#333" >4.0</text>
<line x1="541.60" y1="133.58" x2="543.40" y2="133.58" stroke="#555" stroke-width="0.60"/>
<text x="545.80" y="135.88" font-size="6.40" text-anchor="start" stroke="#333" stroke-width="0.22" textLength="9.40" lengthAdjust="spacingAndGlyphs" fill="#333" >2.0</text>
<text x="567.60" y="81.70" font-size="9.2" text-anchor="middle" fill="#1e1e1e" textLength="40.4" lengthAdjust="spacingAndGlyphs" xml:space="preserve" transform="rotate(-90 567.60 81.70)">P<tspan font-size="6.4" dy="1.8" font-style="italic">neg</tspan><tspan dy="-1.8">&#160;[kPa]</tspan></text>
<text x="405.80" y="167.20" font-size="12.00" text-anchor="start" stroke="#000" stroke-width="0.35" font-weight="bold" fill="#000" >c</text>
<text x="287.40" y="187.70" font-size="12.20" text-anchor="middle" font-weight="bold" textLength="180.10" lengthAdjust="spacingAndGlyphs" fill="#000" >Variation of the dose maximum</text>
<text x="287.20" y="368.60" font-size="12.20" text-anchor="middle" font-weight="bold" textLength="283.40" lengthAdjust="spacingAndGlyphs" fill="#000" >Variation of the maximum negative peak pressue</text>
<rect x="75.09" y="213.25" width="31.50" height="31.50" fill="#fbe9cf"/>
<rect x="117.40" y="213.25" width="31.50" height="31.50" fill="#a24e07"/>
<rect x="159.71" y="213.25" width="31.50" height="31.50" fill="#c4680b"/>
<rect x="75.09" y="251.75" width="31.50" height="31.50" fill="#eeeef3"/>
<rect x="117.40" y="251.75" width="31.50" height="31.50" fill="#f7f7f6"/>
<rect x="159.71" y="251.75" width="31.50" height="31.50" fill="#fdca88"/>
<rect x="75.09" y="290.05" width="31.50" height="31.50" fill="#fcb761"/>
<rect x="117.40" y="290.05" width="31.50" height="31.50" fill="#fdc47b"/>
<rect x="159.71" y="290.05" width="31.50" height="31.50" fill="#fee0b6"/>
<rect x="64.90" y="206.10" width="136.50" height="122.30" fill="none" stroke="#222" stroke-width="0.80"/>
<line x1="90.84" y1="328.40" x2="90.84" y2="331.90" stroke="#222" stroke-width="0.80"/>
<text x="90.54" y="340.80" font-size="8.50" text-anchor="middle" stroke="#1e1e1e" stroke-width="0.22" textLength="10.60" lengthAdjust="spacingAndGlyphs" fill="#1e1e1e" >−5</text>
<line x1="133.15" y1="328.40" x2="133.15" y2="331.90" stroke="#222" stroke-width="0.80"/>
<text x="133.15" y="340.80" font-size="8.50" text-anchor="middle" stroke="#1e1e1e" stroke-width="0.22" textLength="5.10" lengthAdjust="spacingAndGlyphs" fill="#1e1e1e" >0</text>
<line x1="175.46" y1="328.40" x2="175.46" y2="331.90" stroke="#222" stroke-width="0.80"/>
<text x="175.46" y="340.80" font-size="8.50" text-anchor="middle" stroke="#1e1e1e" stroke-width="0.22" textLength="5.10" lengthAdjust="spacingAndGlyphs" fill="#1e1e1e" >5</text>
<text x="133.15" y="353.30" font-size="10.00" text-anchor="middle" stroke="#1e1e1e" stroke-width="0.12" textLength="92.60" lengthAdjust="spacingAndGlyphs" fill="#1e1e1e" >Offset y-axis [mm]</text>
<line x1="61.40" y1="210.20" x2="64.90" y2="210.20" stroke="#222" stroke-width="0.80"/>
<text x="59.00" y="213.25" font-size="8.50" text-anchor="end" stroke="#1e1e1e" stroke-width="0.22" textLength="12.00" lengthAdjust="spacingAndGlyphs" fill="#1e1e1e" >7.5</text>
<line x1="61.40" y1="229.32" x2="64.90" y2="229.32" stroke="#222" stroke-width="0.80"/>
<text x="59.00" y="232.37" font-size="8.50" text-anchor="end" stroke="#1e1e1e" stroke-width="0.22" textLength="12.00" lengthAdjust="spacingAndGlyphs" fill="#1e1e1e" >5.0</text>
<line x1="61.40" y1="248.44" x2="64.90" y2="248.44" stroke="#222" stroke-width="0.80"/>
<text x="59.00" y="251.49" font-size="8.50" text-anchor="end" stroke="#1e1e1e" stroke-width="0.22" textLength="12.00" lengthAdjust="spacingAndGlyphs" fill="#1e1e1e" >2.5</text>
<line x1="61.40" y1="267.56" x2="64.90" y2="267.56" stroke="#222" stroke-width="0.80"/>
<text x="59.00" y="270.61" font-size="8.50" text-anchor="end" stroke="#1e1e1e" stroke-width="0.22" textLength="12.00" lengthAdjust="spacingAndGlyphs" fill="#1e1e1e" >0.0</text>
<line x1="61.40" y1="286.68" x2="64.90" y2="286.68" stroke="#222" stroke-width="0.80"/>
<text x="59.00" y="289.73" font-size="8.50" text-anchor="end" stroke="#1e1e1e" stroke-width="0.22" textLength="17.20" lengthAdjust="spacingAndGlyphs" fill="#1e1e1e" >−2.5</text>
<line x1="61.40" y1="305.80" x2="64.90" y2="305.80" stroke="#222" stroke-width="0.80"/>
<text x="59.00" y="308.85" font-size="8.50" text-anchor="end" stroke="#1e1e1e" stroke-width="0.22" textLength="17.20" lengthAdjust="spacingAndGlyphs" fill="#1e1e1e" >−5.0</text>
<line x1="61.40" y1="324.92" x2="64.90" y2="324.92" stroke="#222" stroke-width="0.80"/>
<text x="59.00" y="327.97" font-size="8.50" text-anchor="end" stroke="#1e1e1e" stroke-width="0.22" textLength="17.20" lengthAdjust="spacingAndGlyphs" fill="#1e1e1e" >−7.5</text>
<text x="29.50" y="350.60" font-size="12.00" text-anchor="start" stroke="#000" stroke-width="0.35" font-weight="bold" fill="#000" >d</text>
<text x="131.65" y="198.60" font-size="11.40" text-anchor="middle" stroke="#000" stroke-width="0.30" font-style="italic" fill="#000" >cat 1</text>
<rect x="233.69" y="213.25" width="31.50" height="31.50" fill="#f0f1f4"/>
<rect x="276.00" y="213.25" width="31.50" height="31.50" fill="#f8f4ee"/>
<rect x="318.31" y="213.25" width="31.50" height="31.50" fill="#e8e9f1"/>
<rect x="233.69" y="251.75" width="31.50" height="31.50" fill="#f9efe1"/>
<rect x="276.00" y="251.75" width="31.50" height="31.50" fill="#f7f7f6"/>
<rect x="318.31" y="251.75" width="31.50" height="31.50" fill="#f9efe1"/>
<rect x="233.69" y="290.05" width="31.50" height="31.50" fill="#2d004b"/>
<rect x="276.00" y="290.05" width="31.50" height="31.50" fill="#f8f4ee"/>
<rect x="318.31" y="290.05" width="31.50" height="31.50" fill="#2d004b"/>
<rect x="223.50" y="206.10" width="136.50" height="122.30" fill="none" stroke="#222" stroke-width="0.80"/>
<line x1="249.44" y1="328.40" x2="249.44" y2="331.90" stroke="#222" stroke-width="0.80"/>
<text x="249.14" y="340.80" font-size="8.50" text-anchor="middle" stroke="#1e1e1e" stroke-width="0.22" textLength="10.60" lengthAdjust="spacingAndGlyphs" fill="#1e1e1e" >−5</text>
<line x1="291.75" y1="328.40" x2="291.75" y2="331.90" stroke="#222" stroke-width="0.80"/>
<text x="291.75" y="340.80" font-size="8.50" text-anchor="middle" stroke="#1e1e1e" stroke-width="0.22" textLength="5.10" lengthAdjust="spacingAndGlyphs" fill="#1e1e1e" >0</text>
<line x1="334.06" y1="328.40" x2="334.06" y2="331.90" stroke="#222" stroke-width="0.80"/>
<text x="334.06" y="340.80" font-size="8.50" text-anchor="middle" stroke="#1e1e1e" stroke-width="0.22" textLength="5.10" lengthAdjust="spacingAndGlyphs" fill="#1e1e1e" >5</text>
<text x="291.75" y="353.30" font-size="10.00" text-anchor="middle" stroke="#1e1e1e" stroke-width="0.12" textLength="92.60" lengthAdjust="spacingAndGlyphs" fill="#1e1e1e" >Offset y-axis [mm]</text>
<line x1="220.00" y1="210.20" x2="223.50" y2="210.20" stroke="#222" stroke-width="0.80"/>
<line x1="220.00" y1="229.32" x2="223.50" y2="229.32" stroke="#222" stroke-width="0.80"/>
<line x1="220.00" y1="248.44" x2="223.50" y2="248.44" stroke="#222" stroke-width="0.80"/>
<line x1="220.00" y1="267.56" x2="223.50" y2="267.56" stroke="#222" stroke-width="0.80"/>
<line x1="220.00" y1="286.68" x2="223.50" y2="286.68" stroke="#222" stroke-width="0.80"/>
<line x1="220.00" y1="305.80" x2="223.50" y2="305.80" stroke="#222" stroke-width="0.80"/>
<line x1="220.00" y1="324.92" x2="223.50" y2="324.92" stroke="#222" stroke-width="0.80"/>
<text x="210.60" y="350.60" font-size="12.00" text-anchor="start" stroke="#000" stroke-width="0.35" font-weight="bold" fill="#000" >e</text>
<text x="290.25" y="198.60" font-size="11.40" text-anchor="middle" stroke="#000" stroke-width="0.30" font-style="italic" fill="#000" >cat 2</text>
<rect x="389.31" y="213.25" width="31.50" height="31.50" fill="#7f3b08"/>
<rect x="427.75" y="213.25" width="31.50" height="31.50" fill="#fdca88"/>
<rect x="466.19" y="213.25" width="31.50" height="31.50" fill="#fce5c5"/>
<rect x="389.31" y="251.75" width="31.50" height="31.50" fill="#fdbf72"/>
<rect x="427.75" y="251.75" width="31.50" height="31.50" fill="#f7f7f6"/>
<rect x="466.19" y="251.75" width="31.50" height="31.50" fill="#fed39c"/>
<rect x="389.31" y="290.05" width="31.50" height="31.50" fill="#b1aad1"/>
<rect x="427.75" y="290.05" width="31.50" height="31.50" fill="#fdc278"/>
<rect x="466.19" y="290.05" width="31.50" height="31.50" fill="#fcb761"/>
<rect x="381.50" y="206.10" width="124.00" height="122.30" fill="none" stroke="#222" stroke-width="0.80"/>
<line x1="405.06" y1="328.40" x2="405.06" y2="331.90" stroke="#222" stroke-width="0.80"/>
<text x="404.76" y="340.80" font-size="8.50" text-anchor="middle" stroke="#1e1e1e" stroke-width="0.22" textLength="10.60" lengthAdjust="spacingAndGlyphs" fill="#1e1e1e" >−5</text>
<line x1="443.50" y1="328.40" x2="443.50" y2="331.90" stroke="#222" stroke-width="0.80"/>
<text x="443.50" y="340.80" font-size="8.50" text-anchor="middle" stroke="#1e1e1e" stroke-width="0.22" textLength="5.10" lengthAdjust="spacingAndGlyphs" fill="#1e1e1e" >0</text>
<line x1="481.94" y1="328.40" x2="481.94" y2="331.90" stroke="#222" stroke-width="0.80"/>
<text x="481.94" y="340.80" font-size="8.50" text-anchor="middle" stroke="#1e1e1e" stroke-width="0.22" textLength="5.10" lengthAdjust="spacingAndGlyphs" fill="#1e1e1e" >5</text>
<text x="443.50" y="353.30" font-size="10.00" text-anchor="middle" stroke="#1e1e1e" stroke-width="0.12" textLength="92.60" lengthAdjust="spacingAndGlyphs" fill="#1e1e1e" >Offset y-axis [mm]</text>
<line x1="378.00" y1="210.20" x2="381.50" y2="210.20" stroke="#222" stroke-width="0.80"/>
<line x1="378.00" y1="229.32" x2="381.50" y2="229.32" stroke="#222" stroke-width="0.80"/>
<line x1="378.00" y1="248.44" x2="381.50" y2="248.44" stroke="#222" stroke-width="0.80"/>
<line x1="378.00" y1="267.56" x2="381.50" y2="267.56" stroke="#222" stroke-width="0.80"/>
<line x1="378.00" y1="286.68" x2="381.50" y2="286.68" stroke="#222" stroke-width="0.80"/>
<line x1="378.00" y1="305.80" x2="381.50" y2="305.80" stroke="#222" stroke-width="0.80"/>
<line x1="378.00" y1="324.92" x2="381.50" y2="324.92" stroke="#222" stroke-width="0.80"/>
<text x="365.80" y="350.60" font-size="12.00" text-anchor="start" stroke="#000" stroke-width="0.35" font-weight="bold" fill="#000" >f</text>
<text x="442.00" y="198.60" font-size="11.40" text-anchor="middle" stroke="#000" stroke-width="0.30" font-style="italic" fill="#000" >cat 3</text>
<text x="33.50" y="267.85" font-size="10.00" text-anchor="middle" stroke="#1e1e1e" stroke-width="0.12" textLength="92.60" lengthAdjust="spacingAndGlyphs" transform="rotate(-90 33.50 267.85)" fill="#1e1e1e" >Offset x-axis [mm]</text>
<text x="90.64" y="270.00" font-size="10.20" text-anchor="middle" stroke="#000" stroke-width="0.30" font-weight="bold" fill="#000" >a</text>
<text x="132.95" y="271.10" font-size="10.20" text-anchor="middle" stroke="#000" stroke-width="0.30" font-weight="bold" fill="#000" >b</text>
<text x="175.26" y="270.00" font-size="10.20" text-anchor="middle" stroke="#000" stroke-width="0.30" font-weight="bold" fill="#000" >c</text>
<rect x="511.30" y="206.10" width="6.60" height="122.30" fill="url(#gPu)" stroke="#444" stroke-width="0.7"/>
<line x1="517.90" y1="235.50" x2="521.40" y2="235.50" stroke="#222" stroke-width="0.80"/>
<text x="523.50" y="238.55" font-size="8.50" text-anchor="start" stroke="#1e1e1e" stroke-width="0.22" textLength="5.10" lengthAdjust="spacingAndGlyphs" fill="#1e1e1e" >5</text>
<line x1="517.90" y1="267.40" x2="521.40" y2="267.40" stroke="#222" stroke-width="0.80"/>
<text x="523.50" y="270.45" font-size="8.50" text-anchor="start" stroke="#1e1e1e" stroke-width="0.22" textLength="5.10" lengthAdjust="spacingAndGlyphs" fill="#1e1e1e" >0</text>
<line x1="517.90" y1="299.60" x2="521.40" y2="299.60" stroke="#222" stroke-width="0.80"/>
<text x="523.50" y="302.65" font-size="8.50" text-anchor="start" stroke="#1e1e1e" stroke-width="0.22" textLength="10.60" lengthAdjust="spacingAndGlyphs" fill="#1e1e1e" >−5</text>
<text x="503.0" y="200.6" font-size="10.6" font-style="italic" fill="#000" stroke="#000" stroke-width="0.2">D<tspan font-size="7.3" dy="1.8" letter-spacing="0.45">max</tspan></text>
<text x="542.40" y="268.00" font-size="10.00" text-anchor="middle" stroke="#1e1e1e" stroke-width="0.22" textLength="15.40" lengthAdjust="spacingAndGlyphs" transform="rotate(90 542.40 268.00)" fill="#1e1e1e" >[%]</text>
<rect x="71.20" y="382.25" width="31.50" height="31.50" fill="#a51429"/>
<rect x="113.20" y="382.25" width="31.50" height="31.50" fill="#d6604d"/>
<rect x="155.20" y="382.25" width="31.50" height="31.50" fill="#d6604d"/>
<rect x="71.20" y="420.65" width="31.50" height="31.50" fill="#f9efe9"/>
<rect x="113.20" y="420.65" width="31.50" height="31.50" fill="#f7f6f6"/>
<rect x="155.20" y="420.65" width="31.50" height="31.50" fill="#fbe5d8"/>
<rect x="71.20" y="458.85" width="31.50" height="31.50" fill="#ddebf2"/>
<rect x="113.20" y="458.85" width="31.50" height="31.50" fill="#f7f6f6"/>
<rect x="155.20" y="458.85" width="31.50" height="31.50" fill="#f7f5f4"/>
<rect x="61.20" y="375.30" width="135.50" height="122.00" fill="none" stroke="#222" stroke-width="0.80"/>
<line x1="86.95" y1="497.30" x2="86.95" y2="500.80" stroke="#222" stroke-width="0.80"/>
<text x="86.65" y="509.60" font-size="8.50" text-anchor="middle" stroke="#1e1e1e" stroke-width="0.22" textLength="10.60" lengthAdjust="spacingAndGlyphs" fill="#1e1e1e" >−5</text>
<line x1="128.95" y1="497.30" x2="128.95" y2="500.80" stroke="#222" stroke-width="0.80"/>
<text x="128.95" y="509.60" font-size="8.50" text-anchor="middle" stroke="#1e1e1e" stroke-width="0.22" textLength="5.10" lengthAdjust="spacingAndGlyphs" fill="#1e1e1e" >0</text>
<line x1="170.95" y1="497.30" x2="170.95" y2="500.80" stroke="#222" stroke-width="0.80"/>
<text x="170.95" y="509.60" font-size="8.50" text-anchor="middle" stroke="#1e1e1e" stroke-width="0.22" textLength="5.10" lengthAdjust="spacingAndGlyphs" fill="#1e1e1e" >5</text>
<text x="128.95" y="522.40" font-size="10.00" text-anchor="middle" stroke="#1e1e1e" stroke-width="0.12" textLength="92.60" lengthAdjust="spacingAndGlyphs" fill="#1e1e1e" >Offset y-axis [mm]</text>
<line x1="57.70" y1="379.30" x2="61.20" y2="379.30" stroke="#222" stroke-width="0.80"/>
<text x="55.30" y="382.35" font-size="8.50" text-anchor="end" stroke="#1e1e1e" stroke-width="0.22" textLength="12.00" lengthAdjust="spacingAndGlyphs" fill="#1e1e1e" >7.5</text>
<line x1="57.70" y1="398.40" x2="61.20" y2="398.40" stroke="#222" stroke-width="0.80"/>
<text x="55.30" y="401.45" font-size="8.50" text-anchor="end" stroke="#1e1e1e" stroke-width="0.22" textLength="12.00" lengthAdjust="spacingAndGlyphs" fill="#1e1e1e" >5.0</text>
<line x1="57.70" y1="417.50" x2="61.20" y2="417.50" stroke="#222" stroke-width="0.80"/>
<text x="55.30" y="420.55" font-size="8.50" text-anchor="end" stroke="#1e1e1e" stroke-width="0.22" textLength="12.00" lengthAdjust="spacingAndGlyphs" fill="#1e1e1e" >2.5</text>
<line x1="57.70" y1="436.60" x2="61.20" y2="436.60" stroke="#222" stroke-width="0.80"/>
<text x="55.30" y="439.65" font-size="8.50" text-anchor="end" stroke="#1e1e1e" stroke-width="0.22" textLength="12.00" lengthAdjust="spacingAndGlyphs" fill="#1e1e1e" >0.0</text>
<line x1="57.70" y1="455.70" x2="61.20" y2="455.70" stroke="#222" stroke-width="0.80"/>
<text x="55.30" y="458.75" font-size="8.50" text-anchor="end" stroke="#1e1e1e" stroke-width="0.22" textLength="17.20" lengthAdjust="spacingAndGlyphs" fill="#1e1e1e" >−2.5</text>
<line x1="57.70" y1="474.80" x2="61.20" y2="474.80" stroke="#222" stroke-width="0.80"/>
<text x="55.30" y="477.85" font-size="8.50" text-anchor="end" stroke="#1e1e1e" stroke-width="0.22" textLength="17.20" lengthAdjust="spacingAndGlyphs" fill="#1e1e1e" >−5.0</text>
<line x1="57.70" y1="493.90" x2="61.20" y2="493.90" stroke="#222" stroke-width="0.80"/>
<text x="55.30" y="496.95" font-size="8.50" text-anchor="end" stroke="#1e1e1e" stroke-width="0.22" textLength="17.20" lengthAdjust="spacingAndGlyphs" fill="#1e1e1e" >−7.5</text>
<text x="29.50" y="516.00" font-size="12.00" text-anchor="start" stroke="#000" stroke-width="0.35" font-weight="bold" fill="#000" >g</text>
<rect x="228.54" y="382.25" width="31.50" height="31.50" fill="#fddbc7"/>
<rect x="270.60" y="382.25" width="31.50" height="31.50" fill="#fae7dc"/>
<rect x="312.66" y="382.25" width="31.50" height="31.50" fill="#ecf2f5"/>
<rect x="228.54" y="420.65" width="31.50" height="31.50" fill="#ddebf2"/>
<rect x="270.60" y="420.65" width="31.50" height="31.50" fill="#f7f6f6"/>
<rect x="312.66" y="420.65" width="31.50" height="31.50" fill="#ddebf2"/>
<rect x="228.54" y="458.85" width="31.50" height="31.50" fill="#d8e9f1"/>
<rect x="270.60" y="458.85" width="31.50" height="31.50" fill="#fae9df"/>
<rect x="312.66" y="458.85" width="31.50" height="31.50" fill="#c7e0ed"/>
<rect x="218.50" y="375.30" width="135.70" height="122.00" fill="none" stroke="#222" stroke-width="0.80"/>
<line x1="244.29" y1="497.30" x2="244.29" y2="500.80" stroke="#222" stroke-width="0.80"/>
<text x="243.99" y="509.60" font-size="8.50" text-anchor="middle" stroke="#1e1e1e" stroke-width="0.22" textLength="10.60" lengthAdjust="spacingAndGlyphs" fill="#1e1e1e" >−5</text>
<line x1="286.35" y1="497.30" x2="286.35" y2="500.80" stroke="#222" stroke-width="0.80"/>
<text x="286.35" y="509.60" font-size="8.50" text-anchor="middle" stroke="#1e1e1e" stroke-width="0.22" textLength="5.10" lengthAdjust="spacingAndGlyphs" fill="#1e1e1e" >0</text>
<line x1="328.41" y1="497.30" x2="328.41" y2="500.80" stroke="#222" stroke-width="0.80"/>
<text x="328.41" y="509.60" font-size="8.50" text-anchor="middle" stroke="#1e1e1e" stroke-width="0.22" textLength="5.10" lengthAdjust="spacingAndGlyphs" fill="#1e1e1e" >5</text>
<text x="286.35" y="522.40" font-size="10.00" text-anchor="middle" stroke="#1e1e1e" stroke-width="0.12" textLength="92.60" lengthAdjust="spacingAndGlyphs" fill="#1e1e1e" >Offset y-axis [mm]</text>
<line x1="215.00" y1="379.30" x2="218.50" y2="379.30" stroke="#222" stroke-width="0.80"/>
<line x1="215.00" y1="398.40" x2="218.50" y2="398.40" stroke="#222" stroke-width="0.80"/>
<line x1="215.00" y1="417.50" x2="218.50" y2="417.50" stroke="#222" stroke-width="0.80"/>
<line x1="215.00" y1="436.60" x2="218.50" y2="436.60" stroke="#222" stroke-width="0.80"/>
<line x1="215.00" y1="455.70" x2="218.50" y2="455.70" stroke="#222" stroke-width="0.80"/>
<line x1="215.00" y1="474.80" x2="218.50" y2="474.80" stroke="#222" stroke-width="0.80"/>
<line x1="215.00" y1="493.90" x2="218.50" y2="493.90" stroke="#222" stroke-width="0.80"/>
<text x="210.50" y="518.60" font-size="12.00" text-anchor="start" stroke="#000" stroke-width="0.35" font-weight="bold" fill="#000" >h</text>
<rect x="383.01" y="382.25" width="31.50" height="31.50" fill="#ae172a"/>
<rect x="421.45" y="382.25" width="31.50" height="31.50" fill="#67001f"/>
<rect x="459.89" y="382.25" width="31.50" height="31.50" fill="#e48066"/>
<rect x="383.01" y="420.65" width="31.50" height="31.50" fill="#f8f3f0"/>
<rect x="421.45" y="420.65" width="31.50" height="31.50" fill="#f7f6f6"/>
<rect x="459.89" y="420.65" width="31.50" height="31.50" fill="#d1e5f0"/>
<rect x="383.01" y="458.85" width="31.50" height="31.50" fill="#ddebf2"/>
<rect x="421.45" y="458.85" width="31.50" height="31.50" fill="#cae1ee"/>
<rect x="459.89" y="458.85" width="31.50" height="31.50" fill="#a5cee3"/>
<rect x="375.20" y="375.30" width="124.00" height="122.00" fill="none" stroke="#222" stroke-width="0.80"/>
<line x1="398.76" y1="497.30" x2="398.76" y2="500.80" stroke="#222" stroke-width="0.80"/>
<text x="398.46" y="509.60" font-size="8.50" text-anchor="middle" stroke="#1e1e1e" stroke-width="0.22" textLength="10.60" lengthAdjust="spacingAndGlyphs" fill="#1e1e1e" >−5</text>
<line x1="437.20" y1="497.30" x2="437.20" y2="500.80" stroke="#222" stroke-width="0.80"/>
<text x="437.20" y="509.60" font-size="8.50" text-anchor="middle" stroke="#1e1e1e" stroke-width="0.22" textLength="5.10" lengthAdjust="spacingAndGlyphs" fill="#1e1e1e" >0</text>
<line x1="475.64" y1="497.30" x2="475.64" y2="500.80" stroke="#222" stroke-width="0.80"/>
<text x="475.64" y="509.60" font-size="8.50" text-anchor="middle" stroke="#1e1e1e" stroke-width="0.22" textLength="5.10" lengthAdjust="spacingAndGlyphs" fill="#1e1e1e" >5</text>
<text x="437.20" y="522.40" font-size="10.00" text-anchor="middle" stroke="#1e1e1e" stroke-width="0.12" textLength="92.60" lengthAdjust="spacingAndGlyphs" fill="#1e1e1e" >Offset y-axis [mm]</text>
<line x1="371.70" y1="379.30" x2="375.20" y2="379.30" stroke="#222" stroke-width="0.80"/>
<line x1="371.70" y1="398.40" x2="375.20" y2="398.40" stroke="#222" stroke-width="0.80"/>
<line x1="371.70" y1="417.50" x2="375.20" y2="417.50" stroke="#222" stroke-width="0.80"/>
<line x1="371.70" y1="436.60" x2="375.20" y2="436.60" stroke="#222" stroke-width="0.80"/>
<line x1="371.70" y1="455.70" x2="375.20" y2="455.70" stroke="#222" stroke-width="0.80"/>
<line x1="371.70" y1="474.80" x2="375.20" y2="474.80" stroke="#222" stroke-width="0.80"/>
<line x1="371.70" y1="493.90" x2="375.20" y2="493.90" stroke="#222" stroke-width="0.80"/>
<text x="366.20" y="518.60" font-size="12.00" text-anchor="start" stroke="#000" stroke-width="0.35" font-weight="bold" fill="#000" >i</text>
<text x="29.80" y="436.90" font-size="10.00" text-anchor="middle" stroke="#1e1e1e" stroke-width="0.12" textLength="92.60" lengthAdjust="spacingAndGlyphs" transform="rotate(-90 29.80 436.90)" fill="#1e1e1e" >Offset x-axis [mm]</text>
<text x="86.75" y="439.80" font-size="10.20" text-anchor="middle" stroke="#000" stroke-width="0.30" font-weight="bold" fill="#000" >a</text>
<text x="128.75" y="440.90" font-size="10.20" text-anchor="middle" stroke="#000" stroke-width="0.30" font-weight="bold" fill="#000" >b</text>
<text x="170.75" y="439.80" font-size="10.20" text-anchor="middle" stroke="#000" stroke-width="0.30" font-weight="bold" fill="#000" >c</text>
<rect x="505.20" y="375.30" width="6.40" height="122.00" fill="url(#gRd)" stroke="#444" stroke-width="0.7"/>
<line x1="511.60" y1="380.00" x2="515.10" y2="380.00" stroke="#222" stroke-width="0.80"/>
<text x="517.20" y="383.05" font-size="8.50" text-anchor="start" stroke="#1e1e1e" stroke-width="0.22" textLength="15.00" lengthAdjust="spacingAndGlyphs" fill="#1e1e1e" >100</text>
<line x1="511.60" y1="408.30" x2="515.10" y2="408.30" stroke="#222" stroke-width="0.80"/>
<text x="517.20" y="411.35" font-size="8.50" text-anchor="start" stroke="#1e1e1e" stroke-width="0.22" textLength="10.00" lengthAdjust="spacingAndGlyphs" fill="#1e1e1e" >50</text>
<line x1="511.60" y1="436.60" x2="515.10" y2="436.60" stroke="#222" stroke-width="0.80"/>
<text x="517.20" y="439.65" font-size="8.50" text-anchor="start" stroke="#1e1e1e" stroke-width="0.22" textLength="4.90" lengthAdjust="spacingAndGlyphs" fill="#1e1e1e" >0</text>
<line x1="511.60" y1="464.90" x2="515.10" y2="464.90" stroke="#222" stroke-width="0.80"/>
<text x="517.20" y="467.95" font-size="8.50" text-anchor="start" stroke="#1e1e1e" stroke-width="0.22" textLength="15.40" lengthAdjust="spacingAndGlyphs" fill="#1e1e1e" >−50</text>
<line x1="511.60" y1="493.20" x2="515.10" y2="493.20" stroke="#222" stroke-width="0.80"/>
<text x="517.20" y="496.25" font-size="8.50" text-anchor="start" stroke="#1e1e1e" stroke-width="0.22" textLength="20.30" lengthAdjust="spacingAndGlyphs" fill="#1e1e1e" >−100</text>
<text x="497.0" y="369.9" font-size="10.6" font-style="italic" fill="#000" stroke="#000" stroke-width="0.2">P<tspan font-size="7.3" dy="1.8" letter-spacing="0.45">max</tspan></text>
<text x="546.60" y="437.10" font-size="10.00" text-anchor="middle" stroke="#1e1e1e" stroke-width="0.22" textLength="15.40" lengthAdjust="spacingAndGlyphs" transform="rotate(90 546.60 437.10)" fill="#1e1e1e" >[%]</text></svg>
</body></html>
